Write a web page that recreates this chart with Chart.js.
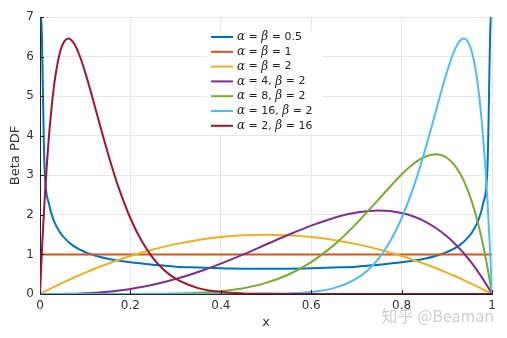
<!DOCTYPE html>
<html>
<head>
<meta charset="utf-8">
<script src="https://cdn.jsdelivr.net/npm/chart.js@4"></script>
<style>
  html, body { margin: 0; padding: 0; background: #fff; }
  #c { display: block; }
</style>
</head>
<body>
<canvas id="c" width="507" height="338"></canvas>
<script>
// x positions shared by the first five curves
const xs = [0, 0.002, 0.01, 0.02, 0.03, 0.045, 0.0625, 0.08, 0.1, 0.125, 0.15, 0.175, 0.2,
            0.25, 0.3, 0.35, 0.4, 0.45, 0.5, 0.55, 0.6, 0.65, 0.7, 0.75, 0.8, 0.825, 0.85,
            0.875, 0.9, 0.92, 0.9375, 0.955, 0.97, 0.98, 0.99, 0.998, 1];
// denser x positions for the two skewed curves
const xsLeft  = [0, 0.0025, 0.005, 0.01, 0.015, 0.02, 0.03, 0.04, 0.05, 0.0625, 0.075, 0.0875, 0.1,
                 0.1125, 0.125, 0.1375, 0.15, 0.1625, 0.175, 0.2, 0.225, 0.25, 0.275, 0.3, 0.35, 0.4,
                 0.45, 0.5, 0.6, 1];
const xsRight = [0, 0.4, 0.5, 0.55, 0.6, 0.65, 0.7, 0.725, 0.75, 0.775, 0.8, 0.825, 0.8375, 0.85,
                 0.8625, 0.875, 0.8875, 0.9, 0.9125, 0.925, 0.9375, 0.95, 0.96, 0.97, 0.98, 0.985,
                 0.99, 0.995, 0.9975, 1];

// density values (clipped at 7 at the edges)
const b05_05 = [7, 7.1, 3.2, 2.27, 1.87, 1.54, 1.32, 1.17, 1.06, 0.96, 0.89, 0.84, 0.8,
                0.74, 0.69, 0.67, 0.65, 0.64, 0.64, 0.64, 0.65, 0.67, 0.69, 0.74, 0.8, 0.84, 0.89,
                0.96, 1.06, 1.17, 1.32, 1.54, 1.87, 2.27, 3.2, 7.1, 7];
const b1_1   = xs.map(() => 1);
const b2_2   = [0, 0.012, 0.059, 0.118, 0.175, 0.258, 0.352, 0.442, 0.54, 0.656, 0.765, 0.866, 0.96,
                1.125, 1.26, 1.365, 1.44, 1.485, 1.5, 1.485, 1.44, 1.365, 1.26, 1.125, 0.96, 0.866, 0.765,
                0.656, 0.54, 0.442, 0.352, 0.258, 0.175, 0.118, 0.059, 0.012, 0];
const b4_2   = [0, 0, 0, 0.0002, 0.0005, 0.0017, 0.0046, 0.0094, 0.018, 0.034, 0.057, 0.088, 0.128,
                0.234, 0.378, 0.557, 0.768, 1.002, 1.25, 1.497, 1.728, 1.922, 2.058, 2.109, 2.048, 1.965, 1.842,
                1.675, 1.458, 1.246, 1.03, 0.784, 0.548, 0.376, 0.194, 0.04, 0];
const b8_2   = [0, 0, 0, 0, 0, 0, 0, 0, 0, 0, 0.0001, 0.0003, 0.0007,
                0.0033, 0.011, 0.03, 0.071, 0.148, 0.281, 0.493, 0.806, 1.235, 1.779, 2.403, 3.02, 3.278, 3.462,
                3.534, 3.444, 3.213, 2.864, 2.347, 1.745, 1.25, 0.671, 0.142, 0];
const b16_2  = [0, 0.0002, 0.0042, 0.0156, 0.0512, 0.149, 0.387, 0.601, 0.909, 1.338, 1.914, 2.657,
                3.091, 3.564, 4.067, 4.588, 5.108, 5.6, 6.027, 6.335, 6.457, 6.301, 5.898, 5.167, 4.018,
                3.252, 2.339, 1.262, 0.655, 0];
const b2_16  = [0, 0.655, 1.262, 2.339, 3.252, 4.018, 5.167, 5.898, 6.301, 6.457, 6.335, 6.027, 5.6,
                5.108, 4.588, 4.067, 3.564, 3.091, 2.657, 1.914, 1.338, 0.909, 0.601, 0.387, 0.149, 0.0512,
                0.0156, 0.0042, 0.0002, 0];

const labels = ['α = β = 0.5', 'α = β = 1', 'α = β = 2', 'α = 4, β = 2',
                'α = 8, β = 2', 'α = 16, β = 2', 'α = 2, β = 16'];
const series = [b05_05, b1_1, b2_2, b4_2, b8_2, b16_2, b2_16];
const seriesX = [xs, xs, xs, xs, xs, xsRight, xsLeft];
const colors = ['#0072BD', '#D95319', '#EDB120', '#7E2F8E', '#77AC30', '#4DBEEE', '#A2142F'];

const xTicks = [0, 0.2, 0.4, 0.6, 0.8, 1];
const yTicks = [0, 1, 2, 3, 4, 5, 6, 7];

const FONT = "'DejaVu Sans', sans-serif";

// legend inside the plot, white box, no frame
const insideLegend = {
    id: 'insideLegend',
    afterDraw(chart) {
        const ctx = chart.ctx;
        ctx.save();
        ctx.fillStyle = '#fff';
        ctx.fillRect(207, 31, 115, 103);
        labels.forEach((lbl, i) => {
            const y = 37 + i * 14.8;
            ctx.strokeStyle = colors[i];
            ctx.lineWidth = 2;
            ctx.beginPath(); ctx.moveTo(211, y); ctx.lineTo(233, y); ctx.stroke();
            // greek letters in italic serif, the rest in sans
            let x = 237;
            ctx.fillStyle = '#222';
            ctx.textBaseline = 'middle';
            for (const ch of lbl) {
                ctx.font = (ch === 'α' || ch === 'β') ? "italic 12px 'DejaVu Serif'" : '11px ' + FONT;
                ctx.fillText(ch, x, y);
                x += ctx.measureText(ch).width;
            }
        });
        // watermark
        ctx.font = "16px 'Noto Sans CJK SC', " + FONT;
        ctx.fillStyle = 'rgba(190,190,190,0.75)';
        ctx.textBaseline = 'middle';
        ctx.textAlign = 'right';
        ctx.fillText('知乎 @Beaman', 494, 316);
        ctx.restore();
    },
    afterDatasetsDraw(chart) {
        // short inward tick marks
        const {ctx, chartArea: a, scales: {x, y}} = chart;
        ctx.save();
        ctx.strokeStyle = '#222';
        ctx.lineWidth = 1;
        ctx.beginPath();
        xTicks.forEach(v => { const px = Math.round(x.getPixelForValue(v)) + 0.5; ctx.moveTo(px, a.bottom); ctx.lineTo(px, a.bottom - 4); });
        yTicks.forEach(v => { const py = Math.round(y.getPixelForValue(v)) + 0.5; ctx.moveTo(a.left, py); ctx.lineTo(a.left + 4, py); });
        ctx.stroke();
        ctx.restore();
    }
};

new Chart(document.getElementById('c'), {
    type: 'line',
    data: {
        datasets: series.map((s, i) => ({
            label: labels[i],
            data: seriesX[i].map((xv, j) => ({x: xv, y: s[j]})),
            borderColor: colors[i],
            borderWidth: 2,
            pointRadius: 0,
            fill: false,
            cubicInterpolationMode: 'monotone',
            order: series.length - i,      // last series on top
        }))
    },
    options: {
        responsive: false,
        animation: false,
        layout: { padding: { left: 0, right: 15, top: 17, bottom: 0 } },
        scales: {
            x: {
                type: 'linear', min: 0, max: 1,
                afterBuildTicks(scale) { scale.ticks = xTicks.map(v => ({value: v})); },
                afterFit(scale) { scale.height = 44; },
                ticks: { padding: 5, color: '#333', font: { family: FONT, size: 12 }, callback: v => String(v) },
                grid: { color: '#e6e6e6', drawTicks: false },
                border: { color: '#222' },
                title: { display: true, text: 'x', color: '#333', font: { family: FONT, size: 13 }, padding: { top: 0, bottom: 8 } },
            },
            y: {
                min: 0, max: 7,
                afterBuildTicks(scale) { scale.ticks = yTicks.map(v => ({value: v})); },
                afterFit(scale) { scale.width = 40; },
                ticks: { padding: 6, color: '#333', font: { family: FONT, size: 12 } },
                grid: { color: '#e6e6e6', drawTicks: false },
                border: { color: '#222' },
                title: { display: true, text: 'Beta PDF', color: '#333', font: { family: FONT, size: 13 }, padding: { top: 8, bottom: 0 } },
            },
        },
        plugins: { legend: { display: false }, tooltip: { enabled: false } },
    },
    plugins: [insideLegend],
});
</script>
</body>
</html>
